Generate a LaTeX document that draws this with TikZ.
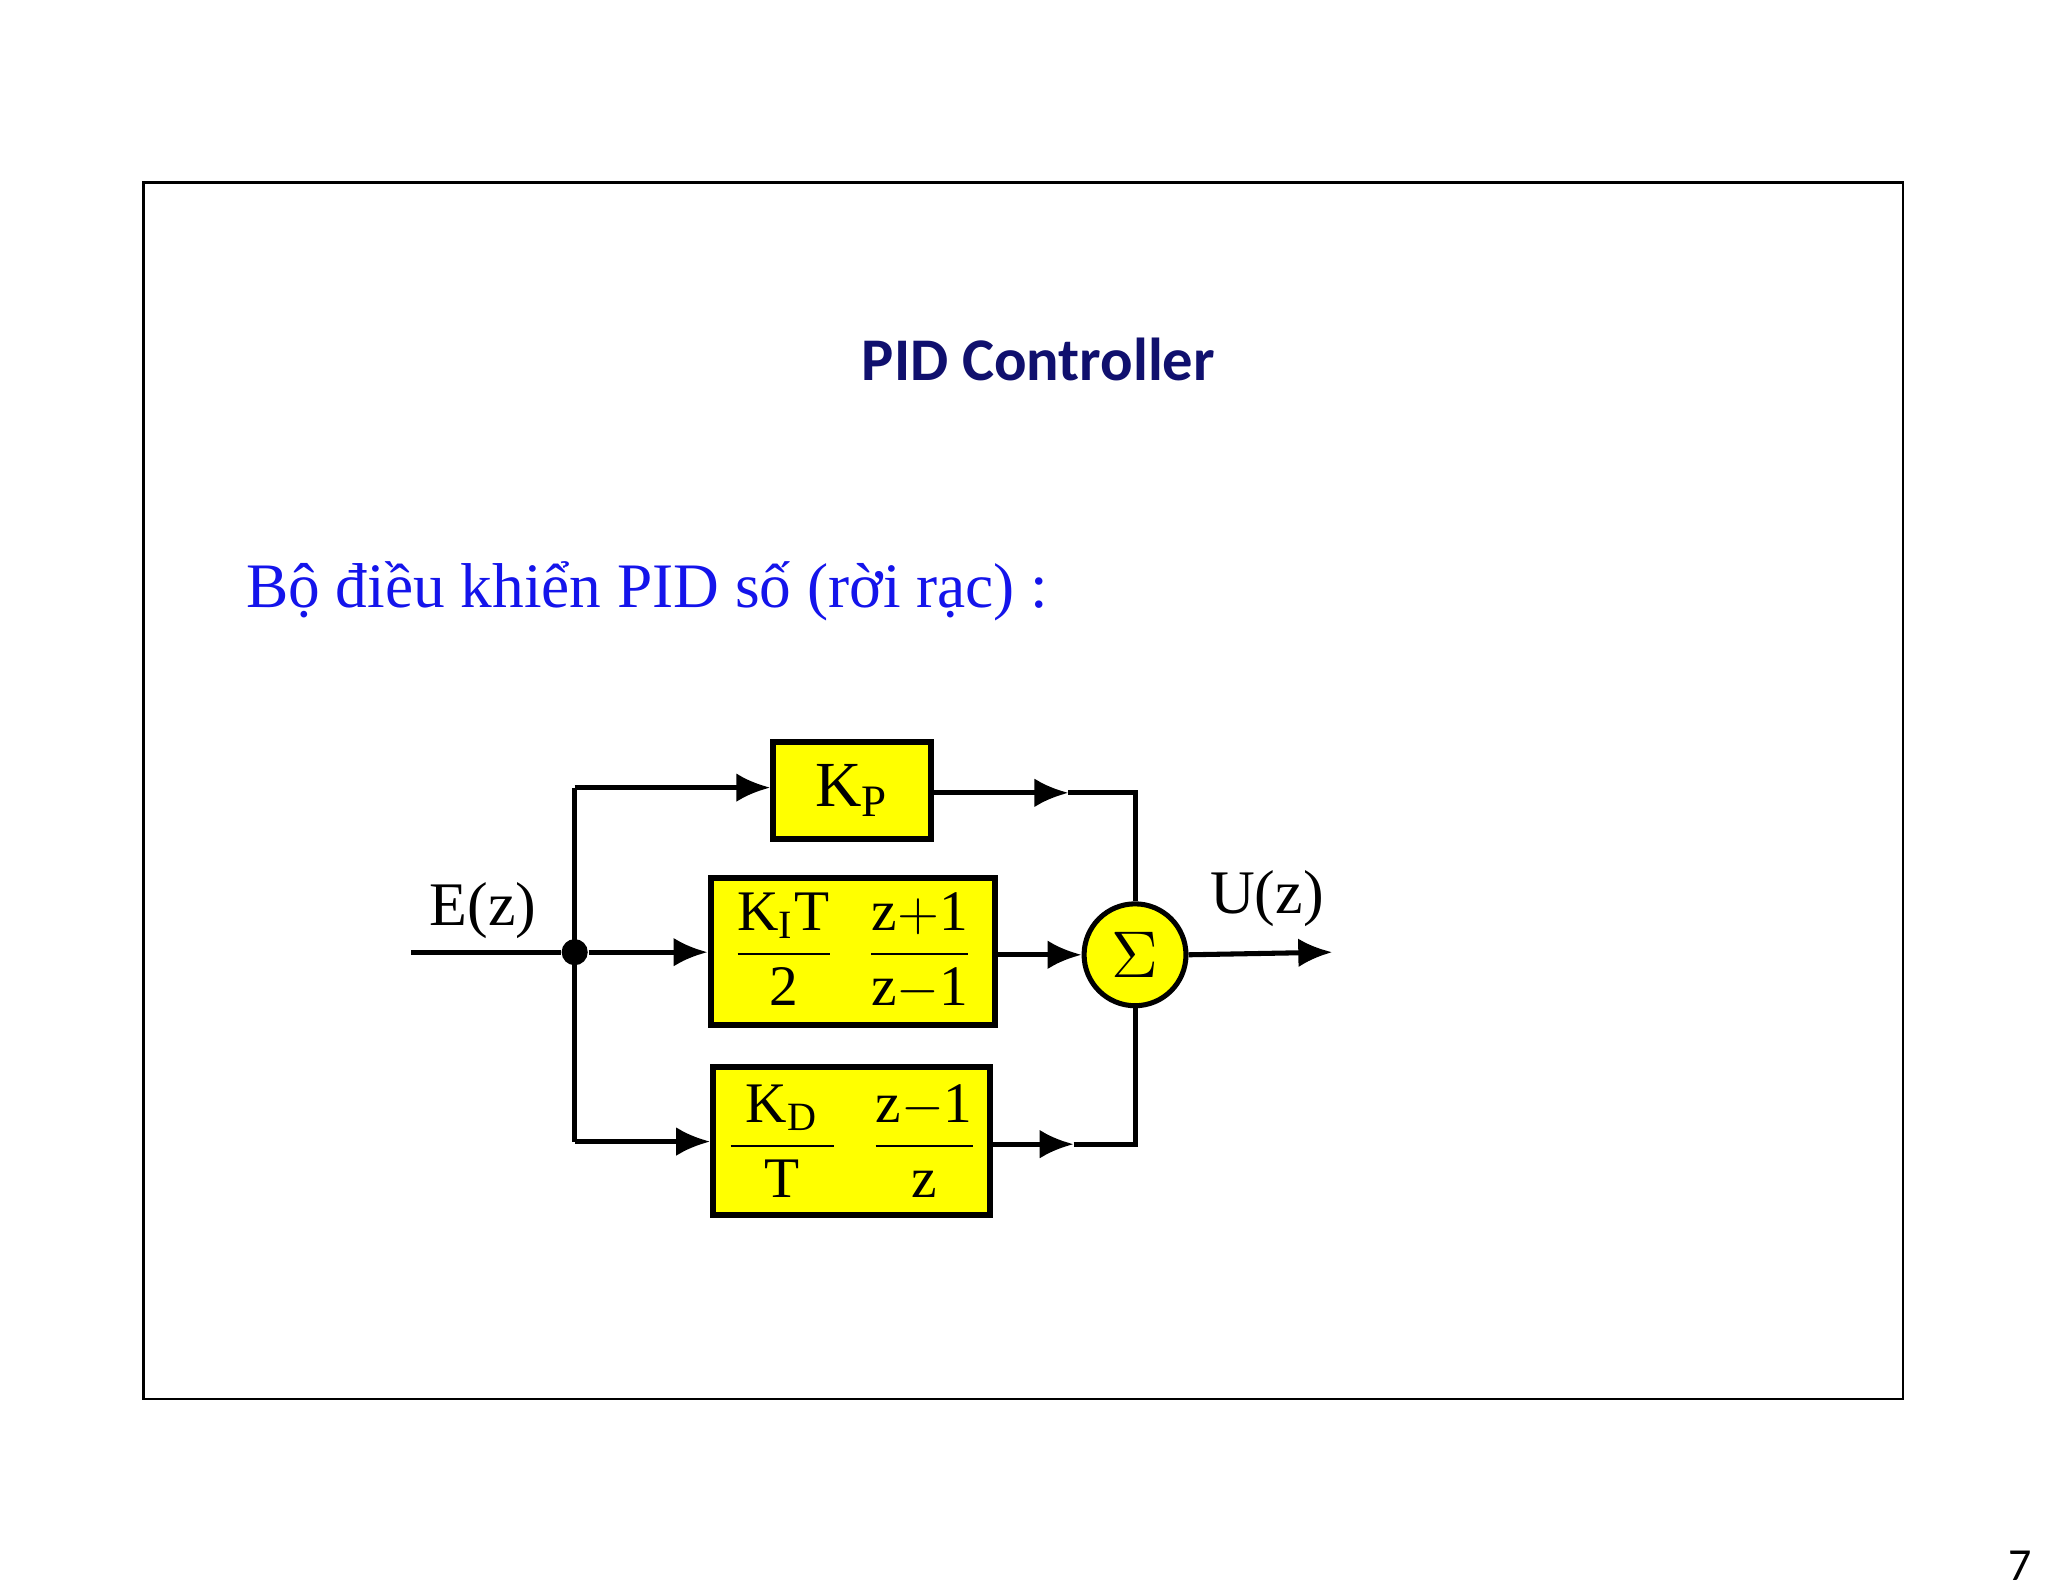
\documentclass[tikz,border=0pt]{standalone}
\usepackage{amsmath}
\usepackage{fontspec}
\setmainfont{Liberation Serif}
\newfontfamily\carlito{Carlito}
\usetikzlibrary{arrows.meta}
\definecolor{navy}{RGB}{16,16,110}
\definecolor{slideblue}{RGB}{20,20,235}
\definecolor{boxyellow}{RGB}{255,255,0}
\begin{document}
\begin{tikzpicture}[x=1cm,y=1cm,
      block/.style ={rectangle, draw, line width=1.3pt, fill=boxyellow, inner sep=0pt},
      summer/.style ={circle, draw, line width=1.1pt, fill=boxyellow, minimum size=7.8mm, inner sep=0pt},
      wire/.style ={line width=1.1pt},
      sig/.style ={wire, -{Latex[length=2.6mm,width=2.2mm]}},
      lab/.style ={font=\fontsize{13.5}{16}\selectfont}]
   \useasboundingbox (0,0) rectangle (15.68,12.11);
   \fill[white] (0,0) rectangle (15.68,12.11);
   \draw[line width=0.6pt] (1.10,1.40) rectangle (14.57,10.71);

   \node[text=navy, font=\carlito\bfseries\fontsize{13.2}{16}\selectfont] (title) at (7.95,9.36) {PID Controller};
   \node[text=slideblue, anchor=west, font=\fontsize{13.8}{16}\selectfont] (sub) at (1.76,7.58) {Bộ điều khiển PID số (rời rạc) :};

   \node[block, minimum width=1.21cm, minimum height=0.74cm] (kp) at (6.525,6.06)
      {\fontsize{14}{16}\selectfont $\mathrm{K_P}$};
   \node[block, minimum width=2.18cm, minimum height=1.13cm] (ki) at (6.53,4.825)
      {\fontsize{12.5}{14}\selectfont $\dfrac{\mathrm{K_I T}}{\mathrm{2}}\;\;\dfrac{\mathrm{z{+}1}}{\mathrm{z{-}1}}$};
   \node[block, minimum width=2.12cm, minimum height=1.13cm] (kd) at (6.52,3.375)
      {\fontsize{12.5}{14}\selectfont $\dfrac{\;\mathrm{K_D}\;}{\mathrm{T}}\;\;\dfrac{\mathrm{z{-}1}}{\mathrm{z}}$};
   \node[summer] (sum) at (8.69,4.80) {\fontsize{14}{16}\selectfont $\Sigma$};

   \node[circle, fill, inner sep=0pt, minimum size=2mm] (dot) at (4.40,4.82) {};
   \coordinate (in) at (3.15,4.82);
   \coordinate (out) at (10.20,4.82);
   \coordinate (up) at (4.40,6.08);
   \coordinate (down) at (4.40,3.37);
   \coordinate (kpm) at (8.18,6.04);
   \coordinate (kdm) at (8.22,3.35);

   \node[lab] (ez) at (3.70,5.14) {E(z)};
   \node[lab] (uz) at (9.70,5.23) {U(z)};
   \node[font=\carlito\fontsize{10}{12}\selectfont] (pg) at (15.47,0.12) {7};

   \draw[wire] (in) -- (dot);
   \draw[wire] (down) -- (up);
   \draw[sig] (up) -- (kp.west |- up);
   \draw[sig] (dot) -- (ki.west |- dot);
   \draw[sig] (down) -- (kd.west |- down);
   \draw[sig] (kp.east |- kpm) -- (kpm);
   \draw[wire] (kpm) -| (sum.north);
   \draw[sig] (ki.east |- sum) -- (sum.west);
   \draw[sig] (kd.east |- kdm) -- (kdm);
   \draw[wire] (kdm) -| (sum.south);
   \draw[sig] (sum.east) -- (out);
 \end{tikzpicture}
\end{document}
